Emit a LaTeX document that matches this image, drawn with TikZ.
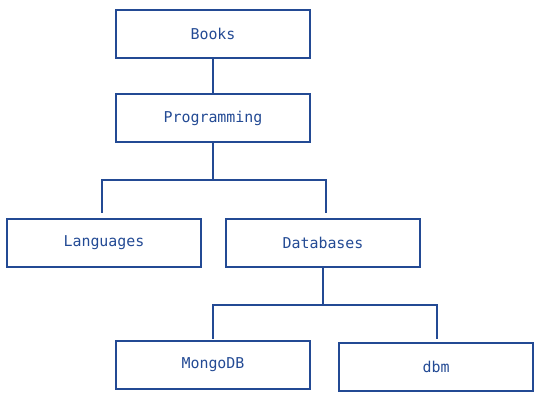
\documentclass[tikz,border=0pt]{standalone}
\usepackage{fontspec}
\setmonofont{DejaVu Sans Mono}
\definecolor{dblue}{HTML}{234A94}
\begin{document}
\begin{tikzpicture}[x=1bp,y=-1bp,
  box/.style={draw=dblue, line width=2bp, minimum width=194bp, minimum height=48bp, inner sep=0pt, text=dblue, font=\ttfamily\fontsize{15}{17}\selectfont},
  conn/.style={draw=dblue, line width=2bp}]
\useasboundingbox (0,0) rectangle (540,400);
\node[box] (books) at (213,34) {Books};
\node[box] (prog) at (213,118) {Programming};
\node[box] (lang) at (104,243) {Languages};
\node[box] (db) at (323,243) {Databases};
\node[box] (mongo) at (213,365) {MongoDB};
\node[box] (dbm) at (436,367) {dbm};
\coordinate (jl) at (102,180);
\coordinate (jr) at (326,180);
\coordinate (kl) at (213,305);
\coordinate (kr) at (437,305);
\draw[conn] (books) -- (prog);
\draw[conn, shorten >=5bp] (prog.south) |- (jl) -- (jl|-lang.north);
\draw[conn, shorten >=5bp] (prog.south) |- (jr) -- (jr|-db.north);
\draw[conn, shorten >=1bp] (db.south) |- (kl) -- (kl|-mongo.north);
\draw[conn, shorten >=3bp] (db.south) |- (kr) -- (kr|-dbm.north);
\end{tikzpicture}
\end{document}
